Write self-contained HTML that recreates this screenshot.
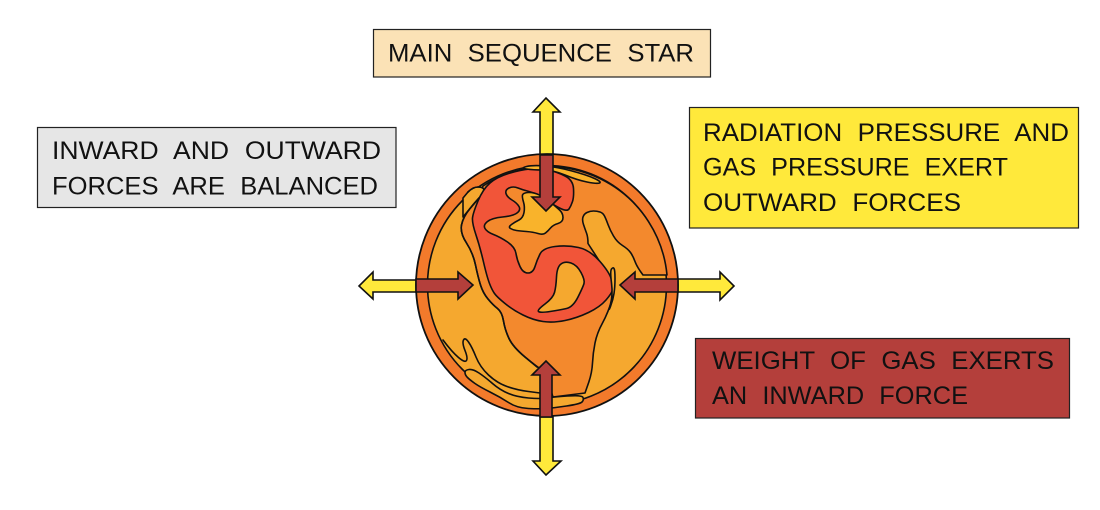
<!DOCTYPE html>
<html><head><meta charset="utf-8"><style>
html,body{margin:0;padding:0;background:#fff}
svg{display:block}
text{font-family:"Liberation Sans",sans-serif;font-size:25px;fill:#111;word-spacing:8px}
.b{stroke:#222;stroke-width:1.2}
.l{fill:none;stroke:#111;stroke-width:1.6;stroke-linejoin:round;stroke-linecap:round}
.a{stroke:#111;stroke-width:1.6;stroke-linejoin:miter}
</style></head><body>
<svg width="1100" height="510" viewBox="0 0 1100 510" xmlns="http://www.w3.org/2000/svg">
<rect class="b" x="373.500" y="29.500" width="337" height="47.500" fill="#FBE2B6"/>
<rect class="b" x="37.500" y="127.500" width="358.500" height="80" fill="#E6E6E6"/>
<rect class="b" x="689.500" y="107.500" width="389" height="120.500" fill="#FFE93B"/>
<rect class="b" x="695.500" y="338.500" width="374" height="79.500" fill="#B43F3B"/>
<text x="388" y="61.500" textLength="306" lengthAdjust="spacingAndGlyphs">MAIN SEQUENCE STAR</text>
<text x="52" y="159" textLength="329" lengthAdjust="spacingAndGlyphs">INWARD AND OUTWARD</text>
<text x="52" y="194.500" textLength="326" lengthAdjust="spacingAndGlyphs">FORCES ARE BALANCED</text>
<text x="703" y="141" textLength="366" lengthAdjust="spacingAndGlyphs">RADIATION PRESSURE AND</text>
<text x="703" y="175.500" textLength="305" lengthAdjust="spacingAndGlyphs">GAS PRESSURE EXERT</text>
<text x="703" y="211" textLength="258" lengthAdjust="spacingAndGlyphs">OUTWARD FORCES</text>
<text x="712" y="369" textLength="342" lengthAdjust="spacingAndGlyphs">WEIGHT OF GAS EXERTS</text>
<text x="712" y="404" textLength="256" lengthAdjust="spacingAndGlyphs">AN INWARD FORCE</text>

<!-- yellow arrows -->
<path class="a" fill="#FFE93B" d="M540 156V112H533L546 98L560 112H553V156Z"/>
<path class="a" fill="#FFE93B" d="M540 417V461H533L546 475L561 461H553V417Z"/>
<path class="a" fill="#FFE93B" d="M417 280H373V272L359 286L373 299V292H417Z"/>
<path class="a" fill="#FFE93B" d="M677 279H720V272L734 286L720 300V292H677Z"/>

<!-- star -->
<circle cx="547" cy="285" r="131" fill="#F37A2B" stroke="#111" stroke-width="1.8"/>
<circle cx="547" cy="285" r="119.500" fill="#F5A82F" stroke="#111" stroke-width="1.6"/>
<!-- central orange -->
<path class="l" style="fill:#F3892D" d="M483 186A119.500 119.500 0 0 1 667 275L643 275Q637 267 635 261.500T630.500 252.500T622.500 245.500T613.500 236T608 224.500T604.500 216T600 212T593.500 211T587 212.500T583 217T583.500 224.500T586.500 233T588 243.500L600 262L613 280L613 297Q608 313 602.500 323T595 343T592.500 363T588.500 383L585 393L553 397L545 372Q537 367 525 357T509 338.500T503.500 321T497.500 308.500T488 299T480.500 285T475.500 265T466.500 243T461.500 225T470 208.500L477 200Z"/>
<!-- left blob cap and outline -->
<path class="l" style="fill:#F5A82F" d="M463 198L468 192Q473 187 478 187T484 189.500T481 196T470 208.500L463 217L463 200Z"/>
<path class="l" d="M468 192Q473 187 478 187T484 189.500T481 196T470 208.500T461.500 225T466.500 243T475.500 265T480.500 285T488 299T497.500 308.500T503.500 321T509 338.500T525 357L537 367"/>
<!-- red lava -->
<path class="l" style="fill:#F15539" d="M478 201Q483 189 490 183T508.500 173.500T530 169T548.500 170T565 176T573.500 188.500T572.500 201.500T569 209T558.500 207.500T542.500 198T529 191.500T518 188T509 188T506 193.500T512 200T519 206.500T517 213T502.500 217T487.500 221.500T485 228.500T493.500 234.500T507.500 242T516 253.500T520 266.500T528 273T535 266.500T540 254T555 246.500T578.500 247.500T600 261.500T611.500 280T612.500 290T606 300T588.500 312.500T565 320.500T543 321.500T523 315T505 303.500T494.500 293.500T489.500 283.500T483.500 262T476 235T472.500 218T478 201Z"/>
<!-- centre blob -->
<path class="l" style="fill:#F9B32B" d="M522.500 195Q523 193 528 192.500T539.500 195T550.500 202T559 209.500T563 217.500T558 223.500T550.500 228T545.500 233T538 233.500T526.500 231.500T516.500 230.500T510.500 228.500T511.500 224.500T519 220T524 212.500T523.500 202T522.500 195Z"/>
<!-- inner lobe -->
<path class="l" style="fill:#F5A82F" d="M554.500 292.500Q556 287 556.500 277T561 264T571 263T581 272.500T584 283.500T578 297T566.500 308.500T550 311.500T538.500 311.500T545 304T554.500 292.500Z"/>
<!-- right lens -->
<path class="l" style="fill:#F5A82F" d="M611.500 283Q610 271 611.500 269T614 268.500T615 278.500T614 293.500T610.500 306.500T610.500 304T611.500 283Z"/>
<!-- top band -->
<path class="l" style="fill:#F9B32B" d="M526.500 169Q520 168 526.500 166.500T545 166T572 171T594.500 178.500T599.500 183T587 182T565 175T543 170T526.500 169Z"/>
<!-- lower details -->
<path class="l" d="M443 340Q452 352 458.500 357.500T466.500 360.500T465 350.500T463.500 340T468.500 342T476 357T488.500 375T507 386.500T528.500 391.500L540 393"/>
<path class="l" style="fill:#F5A82F" d="M465 372.500Q465 370 469 369.500T479 373T492.500 383.500T508.500 393.500T528.500 398T546.500 398T567.500 396T583 397.500T582 402T566.500 406T546.500 408.500T528.500 408.500T508.500 402.500T490 392T475 383.500T467.500 377.500T465 372.500Z"/>

<!-- red arrows -->
<path class="a" fill="#B43F3B" d="M540 155V197H532L546 211L560 197H553V155Z"/>
<path class="a" fill="#B43F3B" d="M540 417V375H532L546 361L560 375H552V417Z"/>
<path class="a" fill="#B43F3B" d="M416 279H458V272L473 285L458 299V292H416Z"/>
<path class="a" fill="#B43F3B" d="M678 279H635V272L620 285L635 299V292H678Z"/>
</svg>
</body></html>
